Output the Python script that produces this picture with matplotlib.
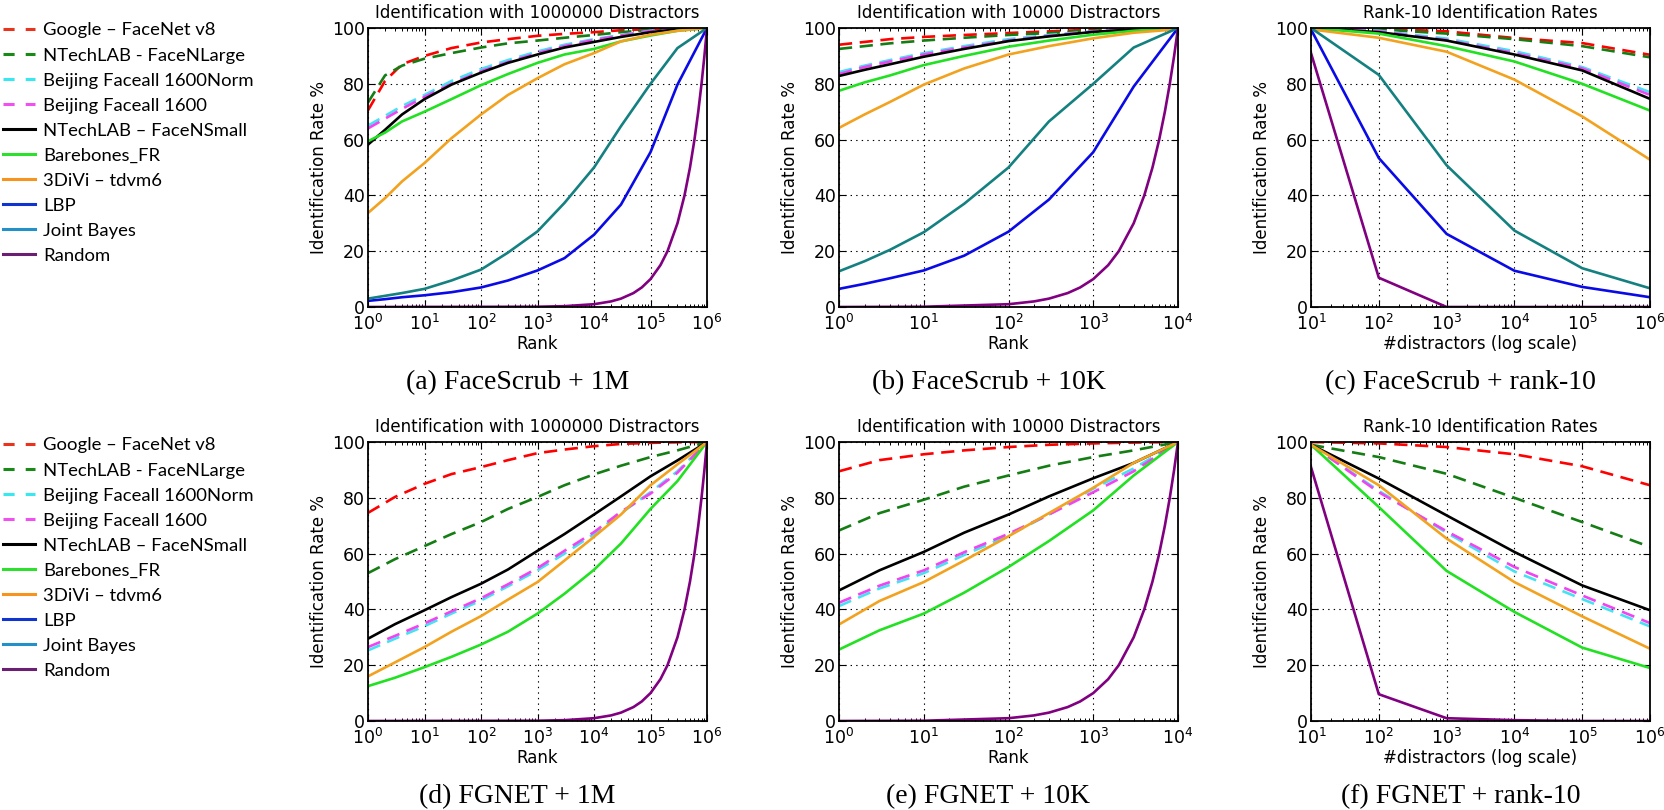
"""
MegaFace identification curves: FaceScrub / FGNET probes with 1M and 10K distractors,
plus rank-10 rate vs number of distractors.
"""
import matplotlib
matplotlib.use("Agg")
import matplotlib.pyplot as plt
from matplotlib.lines import Line2D

plt.rcParams["lines.scale_dashes"] = False
plt.rcParams["mathtext.fontset"] = "dejavusans"

METHODS = [
    "Google \u2013 FaceNet v8",
    "NTechLAB - FaceNLarge",
    "Beijing Faceall 1600Norm",
    "Beijing Faceall 1600",
    "NTechLAB \u2013 FaceNSmall",
    "Barebones_FR",
    "3DiVi \u2013 tdvm6",
    "LBP",
    "Joint Bayes",
    "Random",
]
PLOT_COLORS = ["#ff0000", "#147d14", "#45e2f2", "#f044f0", "#000000",
               "#22e022", "#f2a21e", "#0a0ae6", "#148080", "#800080"]
LEGEND_COLORS = ["#e8341c", "#178a17", "#38e8f0", "#f050f0", "#000000",
                 "#2ee02e", "#f7941d", "#1034d0", "#2390c8", "#6b1f73"]
DASHED = [True, True, True, True, False, False, False, False, False, False]

# ---- (a) FaceScrub + 1M ----
rank_1m = [1, 2, 4, 10, 30, 100, 300, 1e3, 3e3, 1e4, 3e4, 1e5, 3e5, 1e6]
fs1m_google = [70.5, 81, 87, 90, 92.8, 94.8, 96, 97.2, 97.9, 98.5, 99.2, 99.6, 99.9, 100]
fs1m_ntl = [73.3, 83, 86.5, 89, 91, 93, 94.5, 95.5, 96.5, 97.5, 98.5, 99.3, 99.8, 100]
fs1m_bj_norm = [65, 68.5, 72, 76, 81, 85.3, 88.5, 91.6, 94, 96, 97.5, 99, 99.7, 100]
fs1m_bj = [64, 67.5, 71, 75.3, 80, 84.5, 87.8, 91, 93.5, 95.7, 97.3, 98.9, 99.6, 100]
fs1m_nts = [58.2, 63.5, 69, 74.5, 79.7, 84, 87.5, 90.5, 93, 95, 96.8, 98.5, 99.5, 100]
fs1m_bare = [59.4, 62.5, 66.5, 70, 74.5, 79.5, 83.5, 87.5, 90.5, 92.5, 95.2, 97.3, 99, 100]
fs1m_3divi = [33.7, 39, 45, 51.6, 60.5, 69, 76, 82, 87, 91, 95.2, 97.6, 99, 100]
fs1m_lbp = [2.2, 2.8, 3.5, 4.2, 5.3, 7, 9.5, 13.1, 17.5, 25.9, 36.7, 55.5, 79.7, 100]
fs1m_jb = [3, 4, 5, 6.5, 9.5, 13.4, 19.5, 27.1, 37.3, 50, 64.8, 80, 92.8, 100]

rand_1m_rank = [1, 1e3, 3e3, 1e4, 2e4, 3e4, 5e4, 7e4, 1e5, 1.5e5, 2e5, 3e5, 4e5, 5e5,
                6e5, 7e5, 8e5, 9e5, 1e6]
rand_1m = [0, 0.1, 0.3, 1, 2, 3, 5, 7, 10, 15, 20, 30, 40, 50, 60, 70, 80, 90, 100]

# ---- (b) FaceScrub + 10K ----
rank_10k = [1, 2, 4, 10, 30, 100, 300, 1e3, 3e3, 1e4]
fs10k_google = [94, 95, 96, 96.8, 97.5, 98.2, 98.8, 99.4, 99.8, 100]
fs10k_ntl = [92.5, 93.5, 94.5, 95.5, 96.5, 97.5, 98.2, 99, 99.6, 100]
fs10k_bj_norm = [84.2, 86.5, 88.5, 91, 93.5, 96, 97.5, 98.8, 99.6, 100]
fs10k_bj = [83.5, 86, 88, 90.5, 93, 95.5, 97.2, 98.7, 99.5, 100]
fs10k_nts = [82.8, 85, 87, 89.7, 92.5, 95.3, 97, 98.6, 99.5, 100]
fs10k_bare = [77.5, 80.5, 83, 86.7, 90, 93.3, 95.5, 97.6, 99, 100]
fs10k_3divi = [64.2, 69, 73.5, 79.7, 85.5, 90.5, 93.5, 96.3, 98.3, 99.6]
fs10k_lbp = [6.5, 8.3, 10.3, 13.1, 18.4, 27, 38.5, 55.5, 79, 100]
fs10k_jb = [12.8, 16.4, 20.5, 26.8, 37, 50, 66.5, 80, 93, 100]

rand_10k_rank = [1, 10, 100, 200, 300, 500, 700, 1e3, 1.5e3, 2e3, 3e3, 4e3, 5e3, 6e3,
                 7e3, 8e3, 9e3, 1e4]
rand_10k = [0, 0.1, 1, 2, 3, 5, 7, 10, 15, 20, 30, 40, 50, 60, 70, 80, 90, 100]

# ---- (c) FaceScrub rank-10 vs #distractors ----
n_distr = [10, 100, 1e3, 1e4, 1e5, 1e6]
fsr10_google = [100, 99.8, 98.8, 96.4, 94.6, 90.4]
fsr10_ntl = [100, 99.5, 98, 96, 93.5, 89.5]
fsr10_bj_norm = [100, 99, 96.2, 91.7, 86, 77]
fsr10_bj = [100, 98.8, 95.7, 91, 85.5, 76]
fsr10_nts = [100, 98.5, 95.5, 90.5, 84.8, 74.6]
fsr10_bare = [100, 98, 93.5, 88, 80, 70.4]
fsr10_3divi = [99.5, 96.5, 91.5, 81.5, 68.3, 52.8]
fsr10_lbp = [99.5, 53.4, 26.2, 13, 7.2, 3.5]
fsr10_jb = [100, 83.2, 50.8, 27.4, 13.9, 6.7]
fsr10_rand = [91, 10.5, 0, 0, 0, 0]

# ---- (d) FGNET + 1M ----
rank_fg1m = [1, 3, 10, 30, 100, 300, 1e3, 3e3, 1e4, 3e4, 1e5, 3e5, 1e6]
fg1m_google = [74.6, 80.3, 85, 88.5, 91, 93.5, 96, 97.3, 98.5, 99.3, 99.7, 99.9, 100]
fg1m_ntl = [53, 58, 62.7, 67, 71.3, 76, 80.3, 84.5, 88.4, 91.5, 94.6, 97, 100]
fg1m_bj_norm = [25.3, 29.5, 34, 38.5, 43.2, 48.3, 54, 60, 67, 74.5, 82, 89.5, 100]
fg1m_bj = [26.5, 30.5, 35, 39.3, 44, 49, 54.8, 61, 67.7, 75, 81.5, 89, 100]
fg1m_nts = [29.5, 34.7, 39.7, 44.4, 49.2, 54.3, 61, 67, 74, 80.5, 87.7, 93.4, 100]
fg1m_bare = [12.5, 15.5, 19.3, 23, 27.4, 32, 38.5, 45.6, 54.2, 63.6, 76, 86, 100]
fg1m_3divi = [16, 21, 26.5, 32, 37.6, 43.5, 49.8, 57.5, 66, 74, 84.5, 92, 100]

# ---- (e) FGNET + 10K ----
rank_fg10k = [1, 3, 10, 30, 100, 300, 1e3, 3e3, 1e4]
fg10k_google = [89.5, 93.5, 95.6, 97, 98.2, 99, 99.5, 99.8, 100]
fg10k_ntl = [68.3, 74.5, 79.3, 84, 88, 91.5, 94.6, 97, 100]
fg10k_bj_norm = [41.2, 47.5, 53, 59.5, 66.5, 74, 83.3, 90.5, 100]
fg10k_bj = [42.4, 48.5, 54, 60.5, 67.1, 74, 82, 89.5, 100]
fg10k_nts = [46.8, 54, 60.6, 67.5, 74, 80.5, 87, 92.5, 100]
fg10k_bare = [25.6, 32.5, 38.5, 46, 55.2, 64.5, 75.5, 88, 100]
fg10k_3divi = [34.6, 43, 49.8, 57.5, 66.2, 74.5, 83.6, 92.5, 100]

# ---- (f) FGNET rank-10 vs #distractors ----
fgr10_google = [100, 99.5, 98.2, 95.6, 91.3, 84.5]
fgr10_ntl = [99, 94.6, 88.6, 80, 71.3, 62.4]
fgr10_bj_norm = [99, 82.5, 67.5, 53.6, 43.7, 33.9]
fgr10_bj = [99, 82, 68, 55.2, 45, 35.1]
fgr10_nts = [99, 86.9, 73.7, 60.6, 48.6, 39.7]
fgr10_bare = [99, 76.7, 53.8, 39.1, 26.3, 19]
fgr10_3divi = [99, 84.5, 65.4, 49.8, 37.5, 25.9]
fgr10_rand = [91, 9.6, 1, 0.3, 0, 0]

CAPTIONS = ["(a) FaceScrub + 1M", "(b) FaceScrub + 10K", "(c) FaceScrub + rank-10",
            "(d) FGNET + 1M", "(e) FGNET + 10K", "(f) FGNET + rank-10"]

FIG_W, FIG_H = 1664, 810
COL_LEFT = [368, 839, 1311]
ROW_TOP = [28, 442]
AX_W, AX_H = 339, 279


def draw_panel(ax, curves, xlim, title, xlabel):
    # curves: list of (method index, x, y)
    for idx, x, y in curves:
        kw = dict(color=PLOT_COLORS[idx], lw=1.9)
        if DASHED[idx]:
            kw["dashes"] = (9.5, 5.5)
        ax.plot(x, y, **kw)
    ax.set_xscale("log")
    ax.set_xlim(*xlim)
    ax.set_ylim(0, 100)
    ax.set_yticks([0, 20, 40, 60, 80, 100])
    ax.grid(True, which="major", color="black", linestyle=(0, (1, 3)), lw=0.8)
    ax.tick_params(which="both", direction="in", top=True, right=True, labelsize=12.5)
    ax.tick_params(which="major", length=5, width=0.8)
    ax.tick_params(which="minor", length=2.5, width=0.7)
    ax.tick_params(axis="y", pad=2)
    ax.tick_params(axis="x", pad=5)
    for sp in ax.spines.values():
        sp.set_linewidth(1.3)
    ax.set_title(title, fontsize=12, pad=7)
    ax.set_xlabel(xlabel, fontsize=12, labelpad=1)
    ax.set_ylabel("Identification Rate %", fontsize=12, labelpad=3)


fig = plt.figure(figsize=(FIG_W / 100, FIG_H / 100), dpi=100)
axes = []
for r in range(2):
    for c in range(3):
        left = COL_LEFT[c] / FIG_W
        bottom = 1 - (ROW_TOP[r] + AX_H) / FIG_H
        axes.append(fig.add_axes([left, bottom, AX_W / FIG_W, AX_H / FIG_H]))

draw_panel(axes[0], [
    (0, rank_1m, fs1m_google), (1, rank_1m, fs1m_ntl), (2, rank_1m, fs1m_bj_norm),
    (3, rank_1m, fs1m_bj), (4, rank_1m, fs1m_nts), (5, rank_1m, fs1m_bare),
    (6, rank_1m, fs1m_3divi), (7, rank_1m, fs1m_lbp), (8, rank_1m, fs1m_jb),
    (9, rand_1m_rank, rand_1m)], (1, 1e6), "Identification with 1000000 Distractors", "Rank")

draw_panel(axes[1], [
    (0, rank_10k, fs10k_google), (1, rank_10k, fs10k_ntl), (2, rank_10k, fs10k_bj_norm),
    (3, rank_10k, fs10k_bj), (4, rank_10k, fs10k_nts), (5, rank_10k, fs10k_bare),
    (6, rank_10k, fs10k_3divi), (7, rank_10k, fs10k_lbp), (8, rank_10k, fs10k_jb),
    (9, rand_10k_rank, rand_10k)], (1, 1e4), "Identification with 10000 Distractors", "Rank")

draw_panel(axes[2], [
    (0, n_distr, fsr10_google), (1, n_distr, fsr10_ntl), (2, n_distr, fsr10_bj_norm),
    (3, n_distr, fsr10_bj), (4, n_distr, fsr10_nts), (5, n_distr, fsr10_bare),
    (6, n_distr, fsr10_3divi), (7, n_distr, fsr10_lbp), (8, n_distr, fsr10_jb),
    (9, n_distr, fsr10_rand)], (10, 1e6), "Rank-10 Identification Rates",
    "#distractors (log scale)")

draw_panel(axes[3], [
    (0, rank_fg1m, fg1m_google), (1, rank_fg1m, fg1m_ntl), (2, rank_fg1m, fg1m_bj_norm),
    (3, rank_fg1m, fg1m_bj), (4, rank_fg1m, fg1m_nts), (5, rank_fg1m, fg1m_bare),
    (6, rank_fg1m, fg1m_3divi), (9, rand_1m_rank, rand_1m)],
    (1, 1e6), "Identification with 1000000 Distractors", "Rank")

draw_panel(axes[4], [
    (0, rank_fg10k, fg10k_google), (1, rank_fg10k, fg10k_ntl), (2, rank_fg10k, fg10k_bj_norm),
    (3, rank_fg10k, fg10k_bj), (4, rank_fg10k, fg10k_nts), (5, rank_fg10k, fg10k_bare),
    (6, rank_fg10k, fg10k_3divi), (9, rand_10k_rank, rand_10k)],
    (1, 1e4), "Identification with 10000 Distractors", "Rank")

draw_panel(axes[5], [
    (0, n_distr, fgr10_google), (1, n_distr, fgr10_ntl), (2, n_distr, fgr10_bj_norm),
    (3, n_distr, fgr10_bj), (4, n_distr, fgr10_nts), (5, n_distr, fgr10_bare),
    (6, n_distr, fgr10_3divi), (9, n_distr, fgr10_rand)],
    (10, 1e6), "Rank-10 Identification Rates", "#distractors (log scale)")

# sub-figure captions
for i, ax in enumerate(axes):
    r, c = divmod(i, 3)
    cx = (COL_LEFT[c] + AX_W / 2 - 20) / FIG_W
    cy = 1 - [383, 797][r] / FIG_H
    fig.text(cx, cy, CAPTIONS[i], ha="center", va="center", fontsize=20,
             family="Liberation Serif")

# legends on the left (one per row)
handles = []
for i, name in enumerate(METHODS):
    kw = dict(color=LEGEND_COLORS[i], lw=2.2)
    if DASHED[i]:
        kw["dashes"] = (8, 8)
    handles.append(Line2D([], [], **kw))

for top_px in [22.5, 437.5]:
    fig.legend(handles, METHODS, loc="upper left", bbox_to_anchor=(3 / FIG_W, 1 - top_px / FIG_H),
               frameon=False, borderpad=0, borderaxespad=0, handlelength=1.73,
               handletextpad=0.43, labelspacing=0.49,
               prop={"family": "Lato", "size": 13.3})

fig.savefig("out.png", dpi=100)
plt.close(fig)
